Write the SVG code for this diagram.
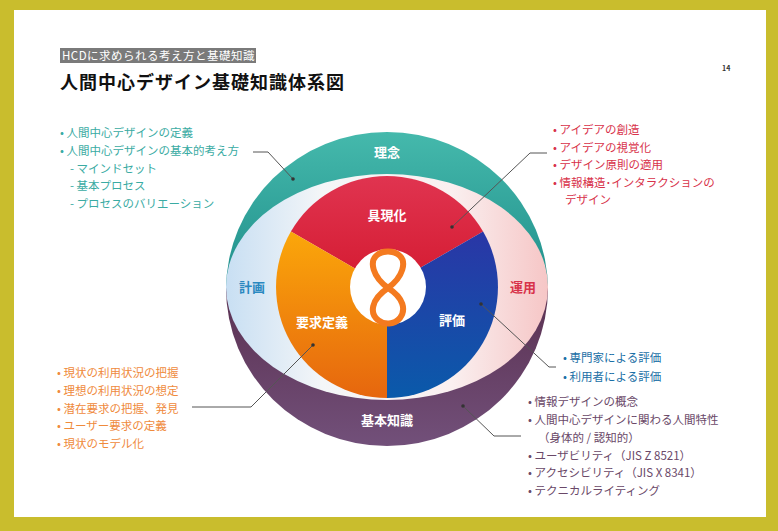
<svg xmlns="http://www.w3.org/2000/svg" width="778" height="531" viewBox="0 0 778 531">
<style>
text{font-family:"Noto Sans CJK JP","Noto Sans",sans-serif;}
.l{font-size:11.5px}
.t{fill:#3aaba3}.r{fill:#d8324a}.b{fill:#1a6fa6}.p{fill:#6a4868}.o{fill:#ef8a3c}
.lab{font-size:13px;font-weight:bold;text-anchor:middle;fill:#fff}
.ld{fill:none;stroke:#555;stroke-width:1}
</style>
<defs>
<linearGradient id="gt" x1="0" y1="0" x2="0" y2="1"><stop offset="0" stop-color="#45b9ac"/><stop offset="1" stop-color="#1f8e8a"/></linearGradient>
<linearGradient id="gp" x1="0" y1="0" x2="0" y2="1"><stop offset="0" stop-color="#5a3050"/><stop offset="1" stop-color="#72507a"/></linearGradient>
<linearGradient id="ge" x1="0" y1="0" x2="1" y2="0"><stop offset="0" stop-color="#c8dff3"/><stop offset="0.3" stop-color="#f4f6f8"/><stop offset="0.7" stop-color="#faf0f0"/><stop offset="1" stop-color="#f6c6c6"/></linearGradient>
<linearGradient id="gr" x1="0" y1="0" x2="0" y2="1"><stop offset="0" stop-color="#e03450"/><stop offset="1" stop-color="#d41a30"/></linearGradient>
<linearGradient id="gb" x1="0" y1="0" x2="0" y2="1"><stop offset="0" stop-color="#2a36a6"/><stop offset="1" stop-color="#0a5aaa"/></linearGradient>
<linearGradient id="go" x1="0" y1="0" x2="0" y2="1"><stop offset="0" stop-color="#fba70a"/><stop offset="1" stop-color="#e6660e"/></linearGradient>
</defs>
<rect width="778" height="531" fill="#c9bd2d"/>
<rect x="14" y="10" width="752" height="507" fill="#fff"/>
<rect x="60" y="48" width="196" height="15" fill="#7a7a7a"/>
<text x="62" y="60" font-size="11.5" fill="#fff" letter-spacing="0.5">HCDに求められる考え方と基礎知識</text>
<text x="60" y="89" font-size="18" font-weight="bold" fill="#111" letter-spacing="1">人間中心デザイン基礎知識体系図</text>
<text x="722" y="71" font-size="7" fill="#333" font-weight="bold">14</text>

<g id="diagram">
<path d="M226,290 A161,158 0 0 1 548,290 Z" fill="url(#gt)"/>
<path d="M226,288 A161,158 0 0 0 548,288 Z" fill="url(#gp)"/>
<ellipse cx="387" cy="287" rx="161" ry="113" fill="url(#ge)"/>
</g>
<g id="pie">
<path d="M387,287 L290.9,231.5 A111,111 0 0 1 483.1,231.5 Z" fill="url(#gr)"/>
<path d="M387,287 L483.1,231.5 A111,111 0 0 1 387,398 Z" fill="url(#gb)"/>
<path d="M387,287 L387,398 A111,111 0 0 1 290.9,231.5 Z" fill="url(#go)"/>
<circle cx="388" cy="287" r="38" fill="#fff"/>
<path d="M388,288 C372,276 370,262 376,256 C382,250 394,250 400,256 C406,262 404,276 388,288 C370,300 370,314 378,320 C384,325 394,325 400,318 C406,310 404,298 388,288 Z" fill="none" stroke="#f47a1f" stroke-width="6"/>
</g>
<g id="labels">
<text x="387" y="157" class="lab">理念</text>
<text x="387" y="220" class="lab">具現化</text>
<text x="252" y="292" class="lab" style="fill:#2a88c0">計画</text>
<text x="523" y="292" class="lab" style="fill:#d8324a">運用</text>
<text x="322" y="327" class="lab">要求定義</text>
<text x="452" y="325" class="lab">評価</text>
<text x="387" y="425" class="lab">基本知識</text>
</g>
<g id="connectors">
<path class="ld" d="M253,152 H268 L293,179"/><circle cx="293" cy="179" r="1.8" fill="#333"/>
<path class="ld" d="M547,153 H530 L452,227"/><circle cx="452" cy="227" r="1.8" fill="#333"/>
<path class="ld" d="M481,304 L549,367 H556"/><circle cx="481" cy="304" r="1.8" fill="#333"/>
<path class="ld" d="M313,345 L251,407 H192"/><circle cx="313" cy="345" r="1.8" fill="#333"/>
<path class="ld" d="M463,406 L494,436 H521"/><circle cx="463" cy="406" r="1.8" fill="#333"/>
</g>
<g id="list-teal" class="l t">
<text x="60" y="137">• 人間中心デザインの定義</text>
<text x="60" y="155">• 人間中心デザインの基本的考え方</text>
<text x="70" y="173">- マインドセット</text>
<text x="70" y="190">- 基本プロセス</text>
<text x="70" y="208">- プロセスのバリエーション</text>
</g>
<g id="list-red" class="l r">
<text x="553" y="134">• アイデアの創造</text>
<text x="553" y="152">• アイデアの視覚化</text>
<text x="553" y="169">• デザイン原則の適用</text>
<text x="553" y="187">• 情報構造･インタラクションの</text>
<text x="565" y="204">デザイン</text>
</g>
<g id="list-blue" class="l b">
<text x="563" y="362">• 専門家による評価</text>
<text x="563" y="381">• 利用者による評価</text>
</g>
<g id="list-purple" class="l p">
<text x="528" y="406">• 情報デザインの概念</text>
<text x="528" y="424">• 人間中心デザインに関わる人間特性</text>
<text x="538" y="442">（身体的 / 認知的）</text>
<text x="528" y="460">• ユーザビリティ（JIS Z 8521）</text>
<text x="528" y="477">• アクセシビリティ（JIS X 8341）</text>
<text x="528" y="495">• テクニカルライティング</text>
</g>
<g id="list-orange" class="l o">
<text x="57" y="377">• 現状の利用状況の把握</text>
<text x="57" y="395">• 理想の利用状況の想定</text>
<text x="57" y="413">• 潜在要求の把握、発見</text>
<text x="57" y="430">• ユーザー要求の定義</text>
<text x="57" y="448">• 現状のモデル化</text>
</g>
</svg>
